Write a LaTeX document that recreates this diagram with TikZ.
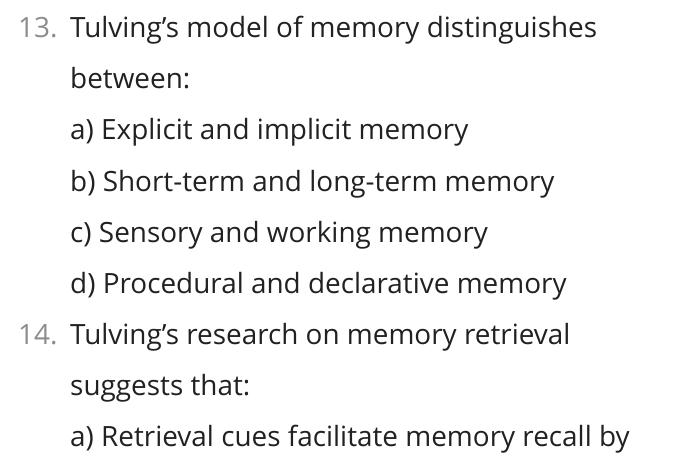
\documentclass[tikz,border=0pt]{standalone}
\usepackage{fontspec}
\setmainfont{Open Sans}
\newcommand{\aps}{\char"27\relax}
\begin{document}
\begin{tikzpicture}[x=1bp,y=1bp,
  txt/.style={anchor=base west,inner sep=0pt,font=\fontsize{28}{32}\selectfont,text=black!87},
  num/.style={txt,text=black!45}]
\useasboundingbox[fill=white] (0,0) rectangle (673,466);
\node[num] (n13) at (18,{466-38}) {13.};
\node[txt] (l1) at (70,{466-38}) {Tulving\aps s model of memory distinguishes};
\node[txt] (l2) at (70,{466-89}) {between:};
\node[txt] (l3) at (70,{466-140}) {a) Explicit and implicit memory};
\node[txt] (l4) at (70,{466-192}) {b) Short-term and long-term memory};
\node[txt] (l5) at (70,{466-243}) {c) Sensory and working memory};
\node[txt] (l6) at (70,{466-294}) {d) Procedural and declarative memory};
\node[num] (n14) at (18,{466-345}) {14.};
\node[txt] (l7) at (70,{466-345}) {Tulving\aps s research on memory retrieval};
\node[txt] (l8) at (70,{466-396}) {suggests that:};
\node[txt] (l9) at (70,{466-447}) {a) Retrieval cues facilitate memory recall by};
\end{tikzpicture}
\end{document}
